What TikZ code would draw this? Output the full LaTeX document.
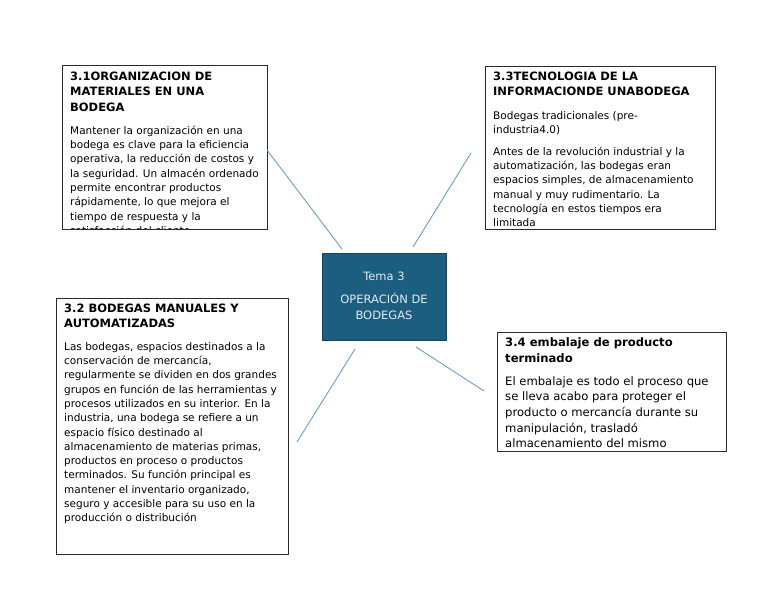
\documentclass[tikz,border=0pt]{standalone}
\usepackage{fontspec}
\setmainfont{DejaVu Sans}
\definecolor{boxline}{HTML}{2B2B2B}
\definecolor{link}{HTML}{6A9FC4}
\definecolor{centerfill}{HTML}{1B5E80}
\definecolor{centerline}{HTML}{16435E}
\definecolor{centertext}{HTML}{E2EAF1}
\tikzset{
  box/.style={draw=boxline, line width=1pt},
  conn/.style={draw=link, line width=0.9pt},
  ttl/.style={anchor=north west, inner sep=0pt, align=left, font=\fontsize{11.5}{15.5}\selectfont\bfseries},
  bdy/.style={anchor=north west, inner sep=0pt, align=left, font=\fontsize{10.5}{14.3}\selectfont},
  bdyb/.style={anchor=north west, inner sep=0pt, align=left, font=\fontsize{11.6}{15.7}\selectfont},
  ttlb/.style={anchor=north west, inner sep=0pt, align=left, font=\fontsize{11.6}{16}\selectfont\bfseries},
  ctr/.style={anchor=north, inner sep=0pt, align=center, text=centertext, font=\fontsize{11.5}{16}\selectfont},
}
\begin{document}
\begin{tikzpicture}[x=1pt, y=-1pt]
\useasboundingbox (0,0) rectangle (768,594);
\fill[white] (0,0) rectangle (768,594);

% boxes
\draw[box] (62,66) rectangle (267,229);
\draw[box] (485,67) rectangle (715,229);
\draw[box] (56,298) rectangle (288,554);
\draw[box] (497,332) rectangle (726,451);
\draw[draw=centerline, fill=centerfill, line width=0.8pt] (322,253) rectangle (446,340);

% connector end points
\coordinate (a1) at (267,150); \coordinate (a2) at (342,249);
\coordinate (b1) at (471,153); \coordinate (b2) at (413,247);
\coordinate (c1) at (355,349); \coordinate (c2) at (297,442);
\coordinate (d1) at (416,347); \coordinate (d2) at (484,391);
\draw[conn] (a1) -- (a2);
\draw[conn] (b1) -- (b2);
\draw[conn] (c1) -- (c2);
\draw[conn] (d1) -- (d2);

% center
\node[ctr] (tema) at (384,268.8) {\strut Tema 3};
\node[ctr] (oper) at (384,291.8) {\strut OPERACIÓN DE\\BODEGAS};

% box 1
\begin{scope}
\clip (62.5,66.5) rectangle (266.5,228.5);
\node[ttl] (t1) at (70,69.2) {\strut 3.1ORGANIZACION DE\\MATERIALES EN UNA\\BODEGA};
\node[bdy] (b1t) at (70,124) {\strut Mantener la organización en una\\bodega es clave para la eficiencia\\operativa, la reducción de costos y\\la seguridad. Un almacén ordenado\\permite encontrar productos\\rápidamente, lo que mejora el\\tiempo de respuesta y la\\satisfacción del cliente};
\end{scope}

% box 3.3
\begin{scope}
\clip (485.5,67.5) rectangle (714.5,228.5);
\node[ttl] (t3) at (493,69.2) {\strut 3.3TECNOLOGIA DE LA\\INFORMACIONDE UNABODEGA};
\node[bdy] (b3a) at (493,109) {\strut Bodegas tradicionales (pre-\\industria4.0)};
\node[bdy] (b3b) at (493,145) {\strut Antes de la revolución industrial y la\\automatización, las bodegas eran\\espacios simples, de almacenamiento\\manual y muy rudimentario. La\\tecnología en estos tiempos era\\limitada};
\end{scope}

% box 3.2
\node[ttl] (t2) at (64,301.2) {\strut 3.2 BODEGAS MANUALES Y\\AUTOMATIZADAS};
\node[bdy] (b2t) at (64,340) {\strut Las bodegas, espacios destinados a la\\conservación de mercancía,\\regularmente se dividen en dos grandes\\grupos en función de las herramientas y\\procesos utilizados en su interior. En la\\industria, una bodega se refiere a un\\espacio físico destinado al\\almacenamiento de materias primas,\\productos en proceso o productos\\terminados. Su función principal es\\mantener el inventario organizado,\\seguro y accesible para su uso en la\\producción o distribución};

% box 3.4
\node[ttlb] (t4) at (505,334.8) {\strut 3.4 embalaje de producto\\terminado};
\node[bdyb] (b4t) at (505,374) {\strut El embalaje es todo el proceso que\\se lleva acabo para proteger el\\producto o mercancía durante su\\manipulación, trasladó\\almacenamiento del mismo};
\end{tikzpicture}
\end{document}
